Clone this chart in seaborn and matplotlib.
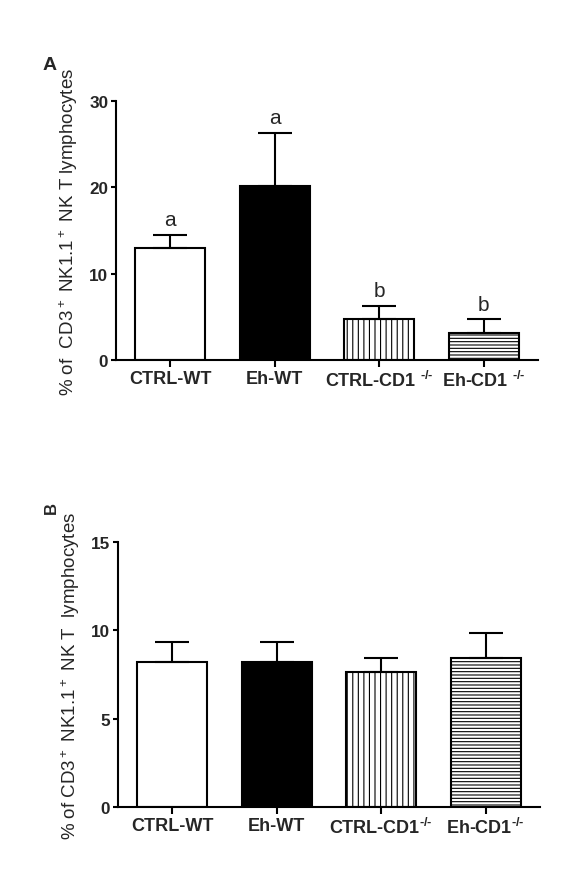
import matplotlib
matplotlib.use("Agg")
import matplotlib.pyplot as plt
import seaborn as sns
import numpy as np
import pandas as pd

categories_a = ["CTRL-WT", "Eh-WT", "CTRL-CD1 $^{\u2010/\u2010}$", "Eh-CD1 $^{\u2010/\u2010}$"]
categories_b = ["CTRL-WT", "Eh-WT", "CTRL-CD1$^{\u2010/\u2010}$", "Eh-CD1$^{\u2010/\u2010}$"]
values_a = [13.0, 20.2, 4.7, 3.1]
errors_a = [1.5, 6.1, 1.6, 1.6]
letters_a = ["a", "a", "b", "b"]
values_b = [8.2, 8.2, 7.65, 8.45]
errors_b = [1.15, 1.15, 0.8, 1.4]
yticks_a = [0, 10, 20, 30]
yticks_b = [0, 5, 10, 15]
ylabel_a = "% of  CD3$^+$ NK1.1$^+$ NK T lymphocytes"
ylabel_b = "% of CD3$^+$ NK1.1$^+$ NK T  lymphocytes"

sns.set_style("white")
plt.rcParams["font.family"] = ["Liberation Sans", "DejaVu Sans"]
plt.rcParams["mathtext.fontset"] = "custom"
plt.rcParams["mathtext.rm"] = "Liberation Sans"
plt.rcParams["mathtext.default"] = "regular"
plt.rcParams["hatch.linewidth"] = 0.8
plt.rcParams["hatch.color"] = "black"

facecolors = ["white", "black", "white", "white"]
hatches = [None, None, "|||", "-----"]

fig = plt.figure(figsize=(5.8, 8.87), dpi=100)
ax_a = fig.add_axes([0.2, 0.593, 0.7276, 0.292])
ax_b = fig.add_axes([0.2034, 0.0891, 0.7276, 0.2988])


def draw(ax, cats, vals, errs, yticks, ylabel, letters=None):
    df = pd.DataFrame({"group": cats, "value": vals})
    sns.barplot(data=df, x="group", y="value", hue="group", palette=facecolors,
                legend=False, errorbar=None, width=0.67, edgecolor="black",
                linewidth=1.5, ax=ax, zorder=2)
    for patch, h in zip(ax.patches, hatches):
        if h:
            patch.set_hatch(h)
    xs = np.arange(len(vals))
    ax.errorbar(xs, vals, yerr=[np.zeros(len(vals)), errs], fmt="none",
                ecolor="black", elinewidth=1.5, capsize=12.5, capthick=1.5, zorder=3)
    if letters:
        for x, v, e, t in zip(xs, vals, errs, letters):
            ax.annotate(t, (x, v + e), xytext=(0, 4), textcoords="offset points",
                        ha="center", va="bottom", fontsize=15)
    ax.set_xlim(-0.52, 3.52)
    ax.set_ylim(0, yticks[-1])
    ax.set_yticks(yticks)
    ax.set_yticklabels([str(t) for t in yticks], fontsize=12.3, fontweight="bold")
    ax.set_xticks(xs)
    ax.set_xticklabels(cats, fontsize=13, fontweight="bold")
    ax.set_xlabel("")
    ax.set_ylabel(ylabel, fontsize=13.5)
    ax.yaxis.set_label_coords(-0.085, 0.5)
    for s in ["top", "right"]:
        ax.spines[s].set_visible(False)
    for s in ["left", "bottom"]:
        ax.spines[s].set_linewidth(1.5)
        ax.spines[s].set_color("black")
    ax.tick_params(axis="x", direction="out", length=5, width=1.5,
                   color="black", bottom=True, pad=2)
    ax.tick_params(axis="y", direction="out", length=3.5, width=1.5,
                   color="black", left=True, pad=2)


draw(ax_a, categories_a, values_a, errors_a, yticks_a, ylabel_a, letters_a)
draw(ax_b, categories_b, values_b, errors_b, yticks_b, ylabel_b)

fig.text(50 / 580, 1 - 65 / 887, "A", fontsize=14, fontweight="bold",
         ha="center", va="center")
fig.text(51 / 580, 1 - 508 / 887, "B", fontsize=12, fontweight="bold",
         ha="center", va="center", rotation=90)

fig.savefig("out.png", dpi=100)
